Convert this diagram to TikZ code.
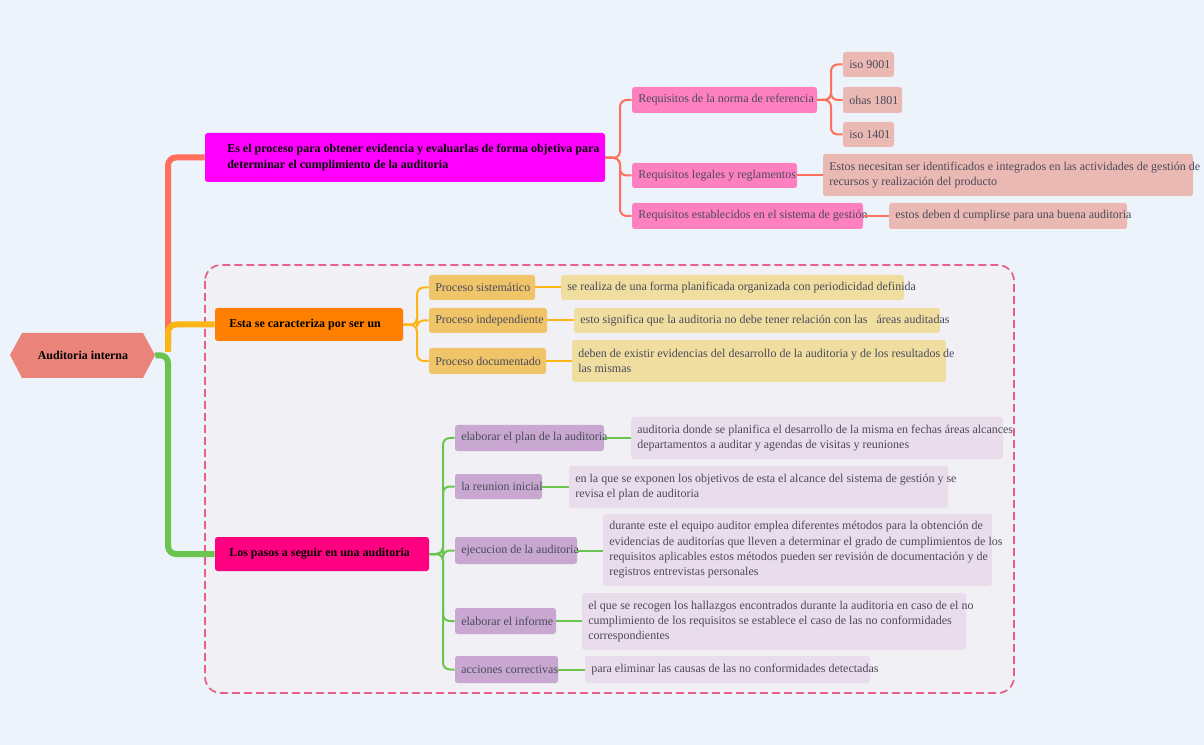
\documentclass[tikz,border=0pt]{standalone}
\usepackage{fontspec}
\setmainfont{Liberation Serif}
\usetikzlibrary{fit}
\definecolor{bg}{HTML}{EDF3FA}
\definecolor{grpbg}{HTML}{F0F0F5}
\definecolor{rootc}{HTML}{EA837A}
\definecolor{ca}{HTML}{FF00FF}
\definecolor{cb}{HTML}{FF7F00}
\definecolor{cc}{HTML}{FF0080}
\definecolor{pa}{HTML}{FF80C0}
\definecolor{pd}{HTML}{EBB9B3}
\definecolor{ob}{HTML}{F0C468}
\definecolor{od}{HTML}{F0DEA0}
\definecolor{vb}{HTML}{C8A8D0}
\definecolor{vd}{HTML}{EADDEB}
\definecolor{lred}{HTML}{FF6F5B}
\definecolor{lor}{HTML}{FDB515}
\definecolor{lgr}{HTML}{6CC450}
\definecolor{dashc}{HTML}{E8608A}
\definecolor{tx}{HTML}{4A4A5A}
\tikzset{
 bxs/.style={fill=#1,rounded corners=2pt,inner sep=0pt},
 txt/.style={anchor=west,inner sep=0pt,align=left,text=tx,font=\fontsize{9}{11.5}\selectfont},
 btxt/.style={anchor=west,inner sep=0pt,align=left,text=black,font=\bfseries\fontsize{9}{11.5}\selectfont},
 main/.style={line width=4.5pt,rounded corners=6pt},
 sub/.style={line width=1.5pt,rounded corners=5pt},
}
\newcommand\bx[8]{\node[fit={(#2,#3) (#4,#5)},bxs=#6] (#1) {};
 \node[#7] at ({#2+6},{(#3+#5)/2}) {#8};}
\begin{document}
\begin{tikzpicture}[x=0.75pt,y=-0.75pt]
\fill[bg] (0,0) rectangle (1204,745);
\useasboundingbox (0,0) rectangle (1204,745);
% dashed group
\draw[draw=dashc,fill=grpbg,line width=1.3pt,rounded corners=12pt,dash pattern=on 6pt off 3pt] (205,265) rectangle (1014,693);
% root
\fill[rootc] (10,355)--(22,333)--(143,333)--(155,355)--(143,378)--(22,378)--cycle;
\node[fit={(10,333) (155,378)},inner sep=0pt] (root) {};
\node[btxt,anchor=center] at (83,355) {Auditoria interna};
% main
\bx{A}{205}{133}{605}{182}{ca}{btxt}{\hspace*{12pt}Es el proceso para obtener evidencia y evaluarlas de forma objetiva para\\\hspace*{12pt}determinar el cumplimiento de la auditoria}
\bx{B}{215}{308}{403}{341}{cb}{btxt}{\hspace*{6pt}Esta se caracteriza por ser un}
\bx{C}{215}{537}{429}{571}{cc}{btxt}{\hspace*{6pt}Los pasos a seguir en una auditoria}
\draw[lred,main] (168,345) |- (A.west);
\draw[lor,main] (168,352) |- (B.west);
\draw[lgr,main] (root.east) -- (168,355) |- (C.west);
% A children
\bx{A1}{632}{87}{817}{113}{pa}{txt}{Requisitos de la norma de referencia}
\bx{A2}{632}{163}{797}{188}{pa}{txt}{Requisitos legales y reglamentos}
\bx{A3}{632}{203}{863}{229}{pa}{txt}{Requisitos establecidos en el sistema de gestión}
\bx{I1}{843}{52}{894}{77}{pd}{txt}{iso 9001}
\bx{I2}{843}{87}{902}{113}{pd}{txt}{ohas 1801}
\bx{I3}{843}{122}{894}{147}{pd}{txt}{iso 1401}
\bx{D2}{823}{154}{1193}{196}{pd}{txt}{Estos necesitan ser identificados e integrados en las actividades de gestión de\\recursos y realización del producto}
\bx{D3}{889}{203}{1127}{229}{pd}{txt}{estos deben d cumplirse para una buena auditoria}
\foreach \n in {A1,A2,A3} \draw[lred,sub] (A.east) -- (620,158) |- (\n.west);
\foreach \n in {I1,I2,I3} \draw[lred,sub] (A1.east) -- (831,100) |- (\n.west);
\draw[lred,sub] (A2.east) -- (D2.west|-A2.east);
\draw[lred,sub] (A3.east) -- (D3.west);
% B children
\bx{B1}{429}{275}{535}{300}{ob}{txt}{Proceso sistemático}
\bx{B2}{429}{308}{547}{333}{ob}{txt}{Proceso independiente}
\bx{B3}{429}{348}{546}{374}{ob}{txt}{Proceso documentado}
\bx{E1}{561}{275}{904}{300}{od}{txt}{se realiza de una forma planificada organizada con periodicidad definida}
\bx{E2}{574}{308}{940}{333}{od}{txt}{esto significa que la auditoria no debe tener relación con las\ \ \ áreas auditadas}
\bx{E3}{572}{340}{946}{382}{od}{txt}{deben de existir evidencias del desarrollo de la auditoria y de los resultados de\\las mismas}
\foreach \n in {B1,B2,B3} \draw[lor,sub] (B.east) -- (417,325) |- (\n.west);
\draw[lor,sub] (B1.east) -- (E1.west);
\draw[lor,sub] (B2.east) -- (E2.west);
\draw[lor,sub] (B3.east) -- (E3.west|-B3.east);
% C children
\bx{C1}{455}{425}{604}{451}{vb}{txt}{elaborar el plan de la auditoria}
\bx{C2}{455}{474}{542}{499}{vb}{txt}{la reunion inicial}
\bx{C3}{455}{537}{577}{564}{vb}{txt}{ejecucion de la auditoria}
\bx{C4}{455}{608}{556}{634}{vb}{txt}{elaborar el informe}
\bx{C5}{455}{656}{558}{683}{vb}{txt}{acciones correctivas}
\bx{F1}{631}{417}{1003}{459}{vd}{txt}{auditoria donde se planifica el desarrollo de la misma en fechas áreas alcances\\departamentos a auditar y agendas de visitas y reuniones}
\bx{F2}{569}{466}{948}{508}{vd}{txt}{en la que se exponen los objetivos de esta el alcance del sistema de gestión y se\\revisa el plan de auditoria}
\bx{F3}{603}{514}{992}{586}{vd}{txt}{durante este el equipo auditor emplea diferentes métodos para la obtención de\\evidencias de auditorías que lleven a determinar el grado de cumplimientos de los\\requisitos aplicables estos métodos pueden ser revisión de documentación y de\\registros entrevistas personales}
\bx{F4}{582}{593}{966}{650}{vd}{txt}{el que se recogen los hallazgos encontrados durante la auditoria en caso de el no\\cumplimiento de los requisitos se establece el caso de las no conformidades\\correspondientes}
\bx{F5}{585}{656}{870}{683}{vd}{txt}{para eliminar las causas de las no conformidades detectadas}
\foreach \n in {C1,C2,C3,C4,C5} \draw[lgr,sub] (C.east) -- (443,554) |- (\n.west);
\foreach \i in {1,...,5} \draw[lgr,sub] (C\i.east) -- (F\i.west|-C\i.east);
\end{tikzpicture}
\end{document}
